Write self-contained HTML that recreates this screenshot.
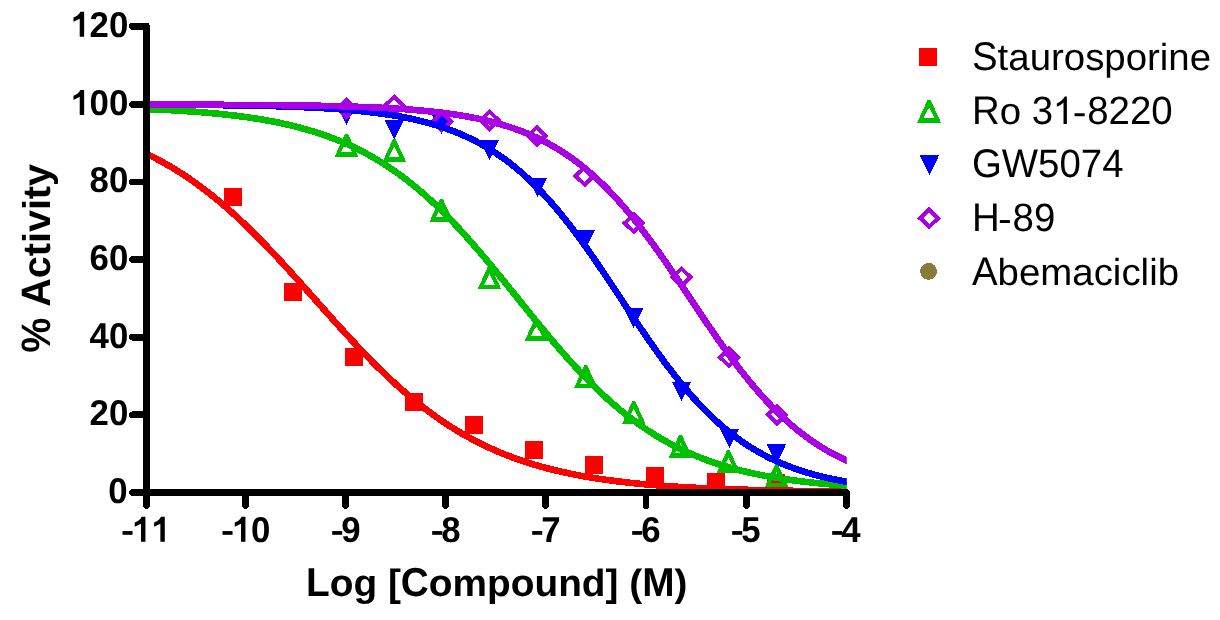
<!DOCTYPE html>
<html><head><meta charset="utf-8"><style>html,body{margin:0;padding:0;background:#fff;width:1220px;height:620px;overflow:hidden}svg{display:block;will-change:transform;text-rendering:geometricPrecision}</style></head>
<body>
<svg width="1220" height="620" viewBox="0 0 1220 620">
<rect width="1220" height="620" fill="#fff"/>
<defs><clipPath id="pc"><rect x="146.5" y="0" width="700.3" height="620"/></clipPath></defs>
<g clip-path="url(#pc)" shape-rendering="crispEdges">
<path fill="#FF0000" d="M224.00,187.90h18v18h-18zM284.00,282.90h18v18h-18zM344.50,347.50h18v18h-18zM404.80,392.90h18v18h-18zM465.00,416.40h18v18h-18zM525.00,440.50h18v18h-18zM585.00,456.00h18v18h-18zM646.40,466.90h18v18h-18zM706.60,473.00h18v18h-18zM766.70,474.00h18v18h-18z"/>
<path fill="#00C000" fill-rule="evenodd" d="M345.10,133.70L347.90,133.70L358.40,156.70L334.60,156.70zM346.50,141.40L351.90,151.90L341.10,151.90zM392.90,139.15L395.70,139.15L406.20,162.15L382.40,162.15zM394.30,146.85L399.70,157.35L388.90,157.35zM440.00,198.80L442.80,198.80L453.30,221.80L429.50,221.80zM441.40,206.50L446.80,217.00L436.00,217.00zM488.00,266.40L490.80,266.40L501.30,289.40L477.50,289.40zM489.40,274.10L494.80,284.60L484.00,284.60zM535.10,317.90L537.90,317.90L548.40,340.90L524.60,340.90zM536.50,325.60L541.90,336.10L531.10,336.10zM584.40,365.30L587.20,365.30L597.70,388.30L573.90,388.30zM585.80,373.00L591.20,383.50L580.40,383.50zM632.40,401.10L635.20,401.10L645.70,424.10L621.90,424.10zM633.80,408.80L639.20,419.30L628.40,419.30zM679.10,434.90L681.90,434.90L692.40,457.90L668.60,457.90zM680.50,442.60L685.90,453.10L675.10,453.10zM727.00,450.30L729.80,450.30L740.30,473.30L716.50,473.30zM728.40,458.00L733.80,468.50L723.00,468.50zM775.20,464.30L778.00,464.30L788.50,487.30L764.70,487.30zM776.60,472.00L782.00,482.50L771.20,482.50z"/>
<path fill="#0000FF" d="M336.80,105.00L356.20,105.00L346.50,124.60zM384.60,120.10L404.00,120.10L394.30,139.70zM431.80,114.90L451.20,114.90L441.50,134.50zM479.80,140.00L499.20,140.00L489.50,159.60zM527.80,177.90L547.20,177.90L537.50,197.50zM575.40,230.10L594.80,230.10L585.10,249.70zM623.80,308.40L643.20,308.40L633.50,328.00zM671.80,381.60L691.20,381.60L681.50,401.20zM719.80,428.50L739.20,428.50L729.50,448.10zM766.80,444.10L786.20,444.10L776.50,463.70z"/>
<path fill="#AA00E6" fill-rule="evenodd" d="M346.50,97.20L358.50,108.60L346.50,120.00L334.50,108.60zM346.50,102.70L352.40,108.60L346.50,114.50L340.60,108.60zM394.30,94.10L406.30,105.50L394.30,116.90L382.30,105.50zM394.30,99.60L400.20,105.50L394.30,111.40L388.40,105.50zM441.80,110.10L453.80,121.50L441.80,132.90L429.80,121.50zM441.80,115.60L447.70,121.50L441.80,127.40L435.90,121.50zM489.50,108.90L501.50,120.30L489.50,131.70L477.50,120.30zM489.50,114.40L495.40,120.30L489.50,126.20L483.60,120.30zM536.90,124.50L548.90,135.90L536.90,147.30L524.90,135.90zM536.90,130.00L542.80,135.90L536.90,141.80L531.00,135.90zM584.70,164.60L596.70,176.00L584.70,187.40L572.70,176.00zM584.70,170.10L590.60,176.00L584.70,181.90L578.80,176.00zM633.80,211.70L645.80,223.10L633.80,234.50L621.80,223.10zM633.80,217.20L639.70,223.10L633.80,229.00L627.90,223.10zM681.50,265.90L693.50,277.30L681.50,288.70L669.50,277.30zM681.50,271.40L687.40,277.30L681.50,283.20L675.60,277.30zM729.00,345.80L741.00,357.20L729.00,368.60L717.00,357.20zM729.00,351.30L734.90,357.20L729.00,363.10L723.10,357.20zM776.80,403.40L788.80,414.80L776.80,426.20L764.80,414.80zM776.80,408.90L782.70,414.80L776.80,420.70L770.90,414.80z"/>
<path fill="none" stroke="#FF0000" stroke-width="6.6" stroke-linejoin="round" d="M143.50,152.31 L146.02,153.51 L148.54,154.74 L151.06,155.99 L153.59,157.28 L156.11,158.59 L158.63,159.93 L161.15,161.30 L163.67,162.70 L166.19,164.13 L168.71,165.59 L171.24,167.08 L173.76,168.60 L176.28,170.15 L178.80,171.73 L181.32,173.34 L183.84,174.98 L186.36,176.66 L188.89,178.37 L191.41,180.11 L193.93,181.88 L196.45,183.68 L198.97,185.51 L201.49,187.38 L204.01,189.28 L206.54,191.21 L209.06,193.18 L211.58,195.17 L214.10,197.20 L216.62,199.26 L219.14,201.35 L221.66,203.48 L224.19,205.63 L226.71,207.82 L229.23,210.03 L231.75,212.28 L234.27,214.56 L236.79,216.87 L239.31,219.20 L241.84,221.57 L244.36,223.96 L246.88,226.38 L249.40,228.83 L251.92,231.31 L254.44,233.81 L256.96,236.33 L259.49,238.88 L262.01,241.46 L264.53,244.06 L267.05,246.68 L269.57,249.32 L272.09,251.98 L274.61,254.66 L277.14,257.36 L279.66,260.07 L282.18,262.80 L284.70,265.55 L287.22,268.31 L289.74,271.09 L292.26,273.88 L294.79,276.67 L297.31,279.48 L299.83,282.30 L302.35,285.12 L304.87,287.95 L307.39,290.79 L309.91,293.63 L312.44,296.47 L314.96,299.31 L317.48,302.15 L320.00,304.99 L322.52,307.83 L325.04,310.67 L327.56,313.50 L330.09,316.32 L332.61,319.14 L335.13,321.95 L337.65,324.75 L340.17,327.53 L342.69,330.31 L345.21,333.07 L347.74,335.82 L350.26,338.55 L352.78,341.27 L355.30,343.97 L357.82,346.65 L360.34,349.31 L362.86,351.96 L365.39,354.58 L367.91,357.18 L370.43,359.75 L372.95,362.30 L375.47,364.83 L377.99,367.34 L380.51,369.81 L383.04,372.26 L385.56,374.69 L388.08,377.08 L390.60,379.45 L393.12,381.79 L395.64,384.10 L398.16,386.37 L400.69,388.62 L403.21,390.84 L405.73,393.03 L408.25,395.19 L410.77,397.31 L413.29,399.41 L415.81,401.47 L418.34,403.50 L420.86,405.50 L423.38,407.46 L425.90,409.40 L428.42,411.30 L430.94,413.17 L433.46,415.01 L435.99,416.81 L438.51,418.58 L441.03,420.33 L443.55,422.03 L446.07,423.71 L448.59,425.36 L451.11,426.97 L453.64,428.55 L456.16,430.11 L458.68,431.63 L461.20,433.12 L463.72,434.58 L466.24,436.01 L468.76,437.41 L471.29,438.78 L473.81,440.13 L476.33,441.44 L478.85,442.73 L481.37,443.99 L483.89,445.22 L486.41,446.42 L488.94,447.60 L491.46,448.75 L493.98,449.87 L496.50,450.97 L499.02,452.05 L501.54,453.10 L504.06,454.12 L506.59,455.12 L509.11,456.10 L511.63,457.05 L514.15,457.99 L516.67,458.89 L519.19,459.78 L521.71,460.65 L524.24,461.49 L526.76,462.32 L529.28,463.12 L531.80,463.90 L534.32,464.67 L536.84,465.41 L539.36,466.14 L541.89,466.85 L544.41,467.54 L546.93,468.21 L549.45,468.87 L551.97,469.51 L554.49,470.13 L557.01,470.74 L559.54,471.33 L562.06,471.90 L564.58,472.46 L567.10,473.01 L569.62,473.54 L572.14,474.06 L574.66,474.56 L577.19,475.05 L579.71,475.53 L582.23,476.00 L584.75,476.45 L587.27,476.89 L589.79,477.32 L592.31,477.74 L594.84,478.14 L597.36,478.54 L599.88,478.92 L602.40,479.29 L604.92,479.66 L607.44,480.01 L609.96,480.36 L612.49,480.69 L615.01,481.02 L617.53,481.33 L620.05,481.64 L622.57,481.94 L625.09,482.23 L627.61,482.52 L630.14,482.79 L632.66,483.06 L635.18,483.32 L637.70,483.57 L640.22,483.82 L642.74,484.06 L645.26,484.29 L647.79,484.52 L650.31,484.74 L652.83,484.95 L655.35,485.16 L657.87,485.36 L660.39,485.56 L662.91,485.75 L665.44,485.94 L667.96,486.12 L670.48,486.29 L673.00,486.46 L675.52,486.63 L678.04,486.79 L680.56,486.94 L683.09,487.10 L685.61,487.24 L688.13,487.39 L690.65,487.53 L693.17,487.66 L695.69,487.79 L698.21,487.92 L700.74,488.05 L703.26,488.17 L705.78,488.28 L708.30,488.40 L710.82,488.51 L713.34,488.62 L715.86,488.72 L718.39,488.82 L720.91,488.92 L723.43,489.02 L725.95,489.11 L728.47,489.20 L730.99,489.29 L733.51,489.37 L736.04,489.45 L738.56,489.53 L741.08,489.61 L743.60,489.69 L746.12,489.76 L748.64,489.83 L751.16,489.90 L753.69,489.97 L756.21,490.04 L758.73,490.10 L761.25,490.16 L763.77,490.22 L766.29,490.28 L768.81,490.34 L771.34,490.39 L773.86,490.45 L776.38,490.50 L778.90,490.55 L781.42,490.60 L783.94,490.64 L786.46,490.69 L788.99,490.74 L791.51,490.78 L794.03,490.82 L796.55,490.86 L799.07,490.90 L801.59,490.94 L804.11,490.98 L806.64,491.02 L809.16,491.05 L811.68,491.09 L814.20,491.12 L816.72,491.15 L819.24,491.18 L821.76,491.21 L824.29,491.24 L826.81,491.27 L829.33,491.30 L831.85,491.33 L834.37,491.35 L836.89,491.38 L839.41,491.41 L841.94,491.43 L844.46,491.45 L846.98,491.48 L849.50,491.50"/>
<path fill="none" stroke="#00C000" stroke-width="6.6" stroke-linejoin="round" d="M143.50,108.93 L146.02,109.03 L148.54,109.13 L151.06,109.24 L153.59,109.35 L156.11,109.46 L158.63,109.58 L161.15,109.70 L163.67,109.83 L166.19,109.96 L168.71,110.09 L171.24,110.23 L173.76,110.37 L176.28,110.51 L178.80,110.67 L181.32,110.82 L183.84,110.98 L186.36,111.15 L188.89,111.32 L191.41,111.50 L193.93,111.68 L196.45,111.87 L198.97,112.06 L201.49,112.27 L204.01,112.47 L206.54,112.69 L209.06,112.91 L211.58,113.14 L214.10,113.37 L216.62,113.61 L219.14,113.86 L221.66,114.12 L224.19,114.39 L226.71,114.66 L229.23,114.95 L231.75,115.24 L234.27,115.54 L236.79,115.85 L239.31,116.17 L241.84,116.50 L244.36,116.85 L246.88,117.20 L249.40,117.56 L251.92,117.94 L254.44,118.32 L256.96,118.72 L259.49,119.13 L262.01,119.55 L264.53,119.99 L267.05,120.44 L269.57,120.90 L272.09,121.37 L274.61,121.87 L277.14,122.37 L279.66,122.89 L282.18,123.43 L284.70,123.98 L287.22,124.55 L289.74,125.14 L292.26,125.74 L294.79,126.37 L297.31,127.01 L299.83,127.67 L302.35,128.34 L304.87,129.04 L307.39,129.76 L309.91,130.50 L312.44,131.26 L314.96,132.04 L317.48,132.85 L320.00,133.68 L322.52,134.53 L325.04,135.40 L327.56,136.30 L330.09,137.23 L332.61,138.18 L335.13,139.15 L337.65,140.15 L340.17,141.18 L342.69,142.24 L345.21,143.33 L347.74,144.44 L350.26,145.59 L352.78,146.76 L355.30,147.96 L357.82,149.20 L360.34,150.47 L362.86,151.77 L365.39,153.10 L367.91,154.46 L370.43,155.86 L372.95,157.29 L375.47,158.76 L377.99,160.26 L380.51,161.80 L383.04,163.37 L385.56,164.98 L388.08,166.63 L390.60,168.31 L393.12,170.04 L395.64,171.80 L398.16,173.59 L400.69,175.43 L403.21,177.30 L405.73,179.21 L408.25,181.17 L410.77,183.16 L413.29,185.19 L415.81,187.26 L418.34,189.36 L420.86,191.51 L423.38,193.70 L425.90,195.93 L428.42,198.19 L430.94,200.49 L433.46,202.84 L435.99,205.22 L438.51,207.63 L441.03,210.09 L443.55,212.58 L446.07,215.11 L448.59,217.67 L451.11,220.27 L453.64,222.91 L456.16,225.58 L458.68,228.28 L461.20,231.01 L463.72,233.78 L466.24,236.57 L468.76,239.40 L471.29,242.25 L473.81,245.13 L476.33,248.04 L478.85,250.97 L481.37,253.92 L483.89,256.90 L486.41,259.90 L488.94,262.92 L491.46,265.95 L493.98,269.00 L496.50,272.07 L499.02,275.15 L501.54,278.25 L504.06,281.35 L506.59,284.46 L509.11,287.59 L511.63,290.71 L514.15,293.84 L516.67,296.98 L519.19,300.11 L521.71,303.24 L524.24,306.37 L526.76,309.50 L529.28,312.62 L531.80,315.73 L534.32,318.83 L536.84,321.93 L539.36,325.01 L541.89,328.08 L544.41,331.13 L546.93,334.16 L549.45,337.18 L551.97,340.18 L554.49,343.15 L557.01,346.11 L559.54,349.04 L562.06,351.94 L564.58,354.82 L567.10,357.67 L569.62,360.49 L572.14,363.29 L574.66,366.05 L577.19,368.78 L579.71,371.48 L582.23,374.15 L584.75,376.78 L587.27,379.38 L589.79,381.94 L592.31,384.47 L594.84,386.96 L597.36,389.41 L599.88,391.83 L602.40,394.20 L604.92,396.54 L607.44,398.85 L609.96,401.11 L612.49,403.33 L615.01,405.52 L617.53,407.66 L620.05,409.77 L622.57,411.83 L625.09,413.86 L627.61,415.85 L630.14,417.80 L632.66,419.71 L635.18,421.58 L637.70,423.42 L640.22,425.21 L642.74,426.97 L645.26,428.69 L647.79,430.37 L650.31,432.01 L652.83,433.62 L655.35,435.19 L657.87,436.73 L660.39,438.23 L662.91,439.69 L665.44,441.13 L667.96,442.52 L670.48,443.88 L673.00,445.21 L675.52,446.51 L678.04,447.78 L680.56,449.01 L683.09,450.21 L685.61,451.39 L688.13,452.53 L690.65,453.64 L693.17,454.73 L695.69,455.78 L698.21,456.81 L700.74,457.81 L703.26,458.78 L705.78,459.73 L708.30,460.66 L710.82,461.55 L713.34,462.43 L715.86,463.28 L718.39,464.10 L720.91,464.91 L723.43,465.69 L725.95,466.45 L728.47,467.19 L730.99,467.90 L733.51,468.60 L736.04,469.28 L738.56,469.94 L741.08,470.58 L743.60,471.20 L746.12,471.80 L748.64,472.38 L751.16,472.95 L753.69,473.51 L756.21,474.04 L758.73,474.56 L761.25,475.07 L763.77,475.56 L766.29,476.03 L768.81,476.50 L771.34,476.94 L773.86,477.38 L776.38,477.80 L778.90,478.21 L781.42,478.61 L783.94,478.99 L786.46,479.36 L788.99,479.73 L791.51,480.08 L794.03,480.42 L796.55,480.75 L799.07,481.07 L801.59,481.38 L804.11,481.68 L806.64,481.97 L809.16,482.26 L811.68,482.53 L814.20,482.80 L816.72,483.05 L819.24,483.30 L821.76,483.55 L824.29,483.78 L826.81,484.01 L829.33,484.23 L831.85,484.44 L834.37,484.65 L836.89,484.85 L839.41,485.05 L841.94,485.23 L844.46,485.42 L846.98,485.59 L849.50,485.76"/>
<path fill="none" stroke="#0000FF" stroke-width="6.6" stroke-linejoin="round" d="M143.50,104.63 L146.02,104.64 L148.54,104.65 L151.06,104.66 L153.59,104.67 L156.11,104.68 L158.63,104.70 L161.15,104.71 L163.67,104.72 L166.19,104.73 L168.71,104.75 L171.24,104.76 L173.76,104.77 L176.28,104.79 L178.80,104.80 L181.32,104.82 L183.84,104.84 L186.36,104.85 L188.89,104.87 L191.41,104.89 L193.93,104.91 L196.45,104.93 L198.97,104.95 L201.49,104.97 L204.01,105.00 L206.54,105.02 L209.06,105.05 L211.58,105.07 L214.10,105.10 L216.62,105.13 L219.14,105.16 L221.66,105.19 L224.19,105.22 L226.71,105.25 L229.23,105.28 L231.75,105.32 L234.27,105.36 L236.79,105.39 L239.31,105.43 L241.84,105.47 L244.36,105.52 L246.88,105.56 L249.40,105.61 L251.92,105.66 L254.44,105.71 L256.96,105.76 L259.49,105.81 L262.01,105.87 L264.53,105.93 L267.05,105.99 L269.57,106.05 L272.09,106.12 L274.61,106.18 L277.14,106.25 L279.66,106.33 L282.18,106.40 L284.70,106.48 L287.22,106.57 L289.74,106.65 L292.26,106.74 L294.79,106.84 L297.31,106.93 L299.83,107.03 L302.35,107.14 L304.87,107.25 L307.39,107.36 L309.91,107.48 L312.44,107.60 L314.96,107.72 L317.48,107.86 L320.00,107.99 L322.52,108.13 L325.04,108.28 L327.56,108.44 L330.09,108.60 L332.61,108.76 L335.13,108.93 L337.65,109.11 L340.17,109.30 L342.69,109.49 L345.21,109.69 L347.74,109.90 L350.26,110.12 L352.78,110.34 L355.30,110.57 L357.82,110.82 L360.34,111.07 L362.86,111.33 L365.39,111.60 L367.91,111.88 L370.43,112.18 L372.95,112.48 L375.47,112.80 L377.99,113.12 L380.51,113.46 L383.04,113.82 L385.56,114.18 L388.08,114.57 L390.60,114.96 L393.12,115.37 L395.64,115.80 L398.16,116.24 L400.69,116.69 L403.21,117.17 L405.73,117.66 L408.25,118.17 L410.77,118.70 L413.29,119.25 L415.81,119.82 L418.34,120.41 L420.86,121.02 L423.38,121.66 L425.90,122.32 L428.42,123.00 L430.94,123.70 L433.46,124.43 L435.99,125.19 L438.51,125.98 L441.03,126.79 L443.55,127.63 L446.07,128.50 L448.59,129.40 L451.11,130.33 L453.64,131.30 L456.16,132.29 L458.68,133.32 L461.20,134.39 L463.72,135.49 L466.24,136.63 L468.76,137.81 L471.29,139.02 L473.81,140.28 L476.33,141.57 L478.85,142.91 L481.37,144.29 L483.89,145.71 L486.41,147.18 L488.94,148.70 L491.46,150.26 L493.98,151.86 L496.50,153.52 L499.02,155.23 L501.54,156.98 L504.06,158.79 L506.59,160.64 L509.11,162.55 L511.63,164.52 L514.15,166.53 L516.67,168.61 L519.19,170.73 L521.71,172.91 L524.24,175.15 L526.76,177.45 L529.28,179.80 L531.80,182.21 L534.32,184.67 L536.84,187.20 L539.36,189.78 L541.89,192.41 L544.41,195.11 L546.93,197.86 L549.45,200.67 L551.97,203.53 L554.49,206.45 L557.01,209.43 L559.54,212.45 L562.06,215.53 L564.58,218.67 L567.10,221.85 L569.62,225.09 L572.14,228.37 L574.66,231.70 L577.19,235.07 L579.71,238.49 L582.23,241.95 L584.75,245.45 L587.27,248.99 L589.79,252.56 L592.31,256.17 L594.84,259.81 L597.36,263.47 L599.88,267.16 L602.40,270.88 L604.92,274.62 L607.44,278.37 L609.96,282.14 L612.49,285.92 L615.01,289.72 L617.53,293.52 L620.05,297.32 L622.57,301.13 L625.09,304.93 L627.61,308.73 L630.14,312.52 L632.66,316.30 L635.18,320.06 L637.70,323.81 L640.22,327.55 L642.74,331.26 L645.26,334.94 L647.79,338.60 L650.31,342.23 L652.83,345.83 L655.35,349.39 L657.87,352.92 L660.39,356.41 L662.91,359.86 L665.44,363.27 L667.96,366.63 L670.48,369.95 L673.00,373.22 L675.52,376.44 L678.04,379.61 L680.56,382.73 L683.09,385.79 L685.61,388.81 L688.13,391.77 L690.65,394.67 L693.17,397.52 L695.69,400.32 L698.21,403.05 L700.74,405.73 L703.26,408.36 L705.78,410.92 L708.30,413.43 L710.82,415.88 L713.34,418.27 L715.86,420.61 L718.39,422.89 L720.91,425.11 L723.43,427.28 L725.95,429.39 L728.47,431.45 L730.99,433.45 L733.51,435.40 L736.04,437.30 L738.56,439.14 L741.08,440.93 L743.60,442.68 L746.12,444.37 L748.64,446.01 L751.16,447.61 L753.69,449.15 L756.21,450.66 L758.73,452.11 L761.25,453.52 L763.77,454.89 L766.29,456.22 L768.81,457.51 L771.34,458.75 L773.86,459.95 L776.38,461.12 L778.90,462.25 L781.42,463.34 L783.94,464.40 L786.46,465.42 L788.99,466.41 L791.51,467.36 L794.03,468.29 L796.55,469.18 L799.07,470.04 L801.59,470.88 L804.11,471.68 L806.64,472.46 L809.16,473.21 L811.68,473.93 L814.20,474.63 L816.72,475.31 L819.24,475.96 L821.76,476.59 L824.29,477.19 L826.81,477.78 L829.33,478.34 L831.85,478.89 L834.37,479.41 L836.89,479.92 L839.41,480.41 L841.94,480.88 L844.46,481.33 L846.98,481.77 L849.50,482.19"/>
<path fill="none" stroke="#AA00E6" stroke-width="6.6" stroke-linejoin="round" d="M143.50,104.59 L146.02,104.59 L148.54,104.60 L151.06,104.60 L153.59,104.60 L156.11,104.61 L158.63,104.61 L161.15,104.62 L163.67,104.62 L166.19,104.62 L168.71,104.63 L171.24,104.63 L173.76,104.64 L176.28,104.64 L178.80,104.65 L181.32,104.66 L183.84,104.66 L186.36,104.67 L188.89,104.67 L191.41,104.68 L193.93,104.69 L196.45,104.70 L198.97,104.70 L201.49,104.71 L204.01,104.72 L206.54,104.73 L209.06,104.74 L211.58,104.75 L214.10,104.76 L216.62,104.77 L219.14,104.78 L221.66,104.79 L224.19,104.80 L226.71,104.81 L229.23,104.82 L231.75,104.83 L234.27,104.85 L236.79,104.86 L239.31,104.87 L241.84,104.89 L244.36,104.90 L246.88,104.92 L249.40,104.94 L251.92,104.95 L254.44,104.97 L256.96,104.99 L259.49,105.01 L262.01,105.03 L264.53,105.05 L267.05,105.07 L269.57,105.09 L272.09,105.12 L274.61,105.14 L277.14,105.17 L279.66,105.19 L282.18,105.22 L284.70,105.25 L287.22,105.28 L289.74,105.31 L292.26,105.34 L294.79,105.37 L297.31,105.41 L299.83,105.44 L302.35,105.48 L304.87,105.52 L307.39,105.56 L309.91,105.60 L312.44,105.64 L314.96,105.69 L317.48,105.74 L320.00,105.79 L322.52,105.84 L325.04,105.89 L327.56,105.94 L330.09,106.00 L332.61,106.06 L335.13,106.12 L337.65,106.18 L340.17,106.25 L342.69,106.32 L345.21,106.39 L347.74,106.47 L350.26,106.54 L352.78,106.62 L355.30,106.71 L357.82,106.79 L360.34,106.88 L362.86,106.98 L365.39,107.07 L367.91,107.18 L370.43,107.28 L372.95,107.39 L375.47,107.50 L377.99,107.62 L380.51,107.74 L383.04,107.87 L385.56,108.00 L388.08,108.14 L390.60,108.28 L393.12,108.43 L395.64,108.59 L398.16,108.75 L400.69,108.91 L403.21,109.09 L405.73,109.27 L408.25,109.45 L410.77,109.65 L413.29,109.85 L415.81,110.06 L418.34,110.27 L420.86,110.50 L423.38,110.73 L425.90,110.97 L428.42,111.23 L430.94,111.49 L433.46,111.76 L435.99,112.04 L438.51,112.33 L441.03,112.64 L443.55,112.95 L446.07,113.28 L448.59,113.62 L451.11,113.97 L453.64,114.34 L456.16,114.72 L458.68,115.11 L461.20,115.52 L463.72,115.94 L466.24,116.38 L468.76,116.84 L471.29,117.31 L473.81,117.80 L476.33,118.31 L478.85,118.84 L481.37,119.39 L483.89,119.95 L486.41,120.54 L488.94,121.15 L491.46,121.78 L493.98,122.43 L496.50,123.11 L499.02,123.81 L501.54,124.53 L504.06,125.29 L506.59,126.06 L509.11,126.87 L511.63,127.70 L514.15,128.57 L516.67,129.46 L519.19,130.38 L521.71,131.34 L524.24,132.33 L526.76,133.35 L529.28,134.40 L531.80,135.49 L534.32,136.62 L536.84,137.78 L539.36,138.99 L541.89,140.23 L544.41,141.51 L546.93,142.83 L549.45,144.19 L551.97,145.60 L554.49,147.05 L557.01,148.55 L559.54,150.09 L562.06,151.68 L564.58,153.31 L567.10,154.99 L569.62,156.73 L572.14,158.51 L574.66,160.34 L577.19,162.22 L579.71,164.16 L582.23,166.15 L584.75,168.19 L587.27,170.29 L589.79,172.44 L592.31,174.65 L594.84,176.91 L597.36,179.23 L599.88,181.60 L602.40,184.03 L604.92,186.52 L607.44,189.06 L609.96,191.66 L612.49,194.32 L615.01,197.03 L617.53,199.80 L620.05,202.62 L622.57,205.50 L625.09,208.43 L627.61,211.41 L630.14,214.45 L632.66,217.54 L635.18,220.68 L637.70,223.87 L640.22,227.10 L642.74,230.39 L645.26,233.72 L647.79,237.09 L650.31,240.50 L652.83,243.96 L655.35,247.45 L657.87,250.98 L660.39,254.54 L662.91,258.13 L665.44,261.75 L667.96,265.40 L670.48,269.08 L673.00,272.77 L675.52,276.49 L678.04,280.22 L680.56,283.96 L683.09,287.71 L685.61,291.48 L688.13,295.25 L690.65,299.02 L693.17,302.79 L695.69,306.56 L698.21,310.32 L700.74,314.07 L703.26,317.81 L705.78,321.54 L708.30,325.25 L710.82,328.93 L713.34,332.60 L715.86,336.24 L718.39,339.86 L720.91,343.44 L723.43,346.99 L725.95,350.51 L728.47,353.99 L730.99,357.44 L733.51,360.84 L736.04,364.20 L738.56,367.52 L741.08,370.79 L743.60,374.01 L746.12,377.19 L748.64,380.31 L751.16,383.39 L753.69,386.41 L756.21,389.38 L758.73,392.30 L761.25,395.16 L763.77,397.97 L766.29,400.72 L768.81,403.41 L771.34,406.05 L773.86,408.64 L776.38,411.17 L778.90,413.64 L781.42,416.05 L783.94,418.41 L786.46,420.71 L788.99,422.96 L791.51,425.15 L794.03,427.29 L796.55,429.37 L799.07,431.40 L801.59,433.37 L804.11,435.29 L806.64,437.16 L809.16,438.98 L811.68,440.75 L814.20,442.47 L816.72,444.14 L819.24,445.76 L821.76,447.33 L824.29,448.86 L826.81,450.34 L829.33,451.78 L831.85,453.18 L834.37,454.53 L836.89,455.84 L839.41,457.11 L841.94,458.34 L844.46,459.53 L846.98,460.69 L849.50,461.80"/>
</g>
<g shape-rendering="crispEdges">
<path fill="none" stroke="#000" stroke-width="6.7" stroke-linejoin="round" stroke-linecap="round" d="M132.4,26.3 H146.55 V505.6"/>
<path stroke="#000" stroke-width="6.7" stroke-linecap="round" d="M132.4,104.5 H146.55"/>
<path stroke="#000" stroke-width="6.7" stroke-linecap="round" d="M132.4,181.9 H146.55"/>
<path stroke="#000" stroke-width="6.7" stroke-linecap="round" d="M132.4,259.5 H146.55"/>
<path stroke="#000" stroke-width="6.7" stroke-linecap="round" d="M132.4,337.2 H146.55"/>
<path stroke="#000" stroke-width="6.7" stroke-linecap="round" d="M132.4,414.8 H146.55"/>
<path stroke="#000" stroke-width="6.7" stroke-linecap="round" d="M132.4,492.4 H146.55"/>
<path fill="none" stroke="#000" stroke-width="6.7" stroke-linejoin="round" stroke-linecap="round" d="M132.4,492.4 H846.5 V505.6"/>
<path stroke="#000" stroke-width="6.7" stroke-linecap="round" d="M245.6,492.4 V505.6"/>
<path stroke="#000" stroke-width="6.7" stroke-linecap="round" d="M345.6,492.4 V505.6"/>
<path stroke="#000" stroke-width="6.7" stroke-linecap="round" d="M445.6,492.4 V505.6"/>
<path stroke="#000" stroke-width="6.7" stroke-linecap="round" d="M545.6,492.4 V505.6"/>
<path stroke="#000" stroke-width="6.7" stroke-linecap="round" d="M646.0,492.4 V505.6"/>
<path stroke="#000" stroke-width="6.7" stroke-linecap="round" d="M746.5,492.4 V505.6"/>
</g>
<g fill="#000">
<path transform="translate(70.24,36.70) scale(0.01699,-0.01699)" d="M818,0L558,0L558,1063L190,883L190,1124Q325,1170 435,1260Q550,1360 595,1466L818,1466Z"/>
<text transform="translate(0,36.70) scale(1,1.03)" x="89.59 108.95" y="0" font-family="Liberation Sans, sans-serif" font-weight="bold" font-size="34.8" style="font-kerning:none">20</text>
<path transform="translate(70.24,114.90) scale(0.01699,-0.01699)" d="M818,0L558,0L558,1063L190,883L190,1124Q325,1170 435,1260Q550,1360 595,1466L818,1466Z"/>
<text transform="translate(0,114.90) scale(1,1.03)" x="89.59 108.95" y="0" font-family="Liberation Sans, sans-serif" font-weight="bold" font-size="34.8" style="font-kerning:none">00</text>
<text transform="translate(0,192.30) scale(1,1.03)" x="89.59 108.95" y="0" font-family="Liberation Sans, sans-serif" font-weight="bold" font-size="34.8" style="font-kerning:none">80</text>
<text transform="translate(0,269.90) scale(1,1.03)" x="89.59 108.95" y="0" font-family="Liberation Sans, sans-serif" font-weight="bold" font-size="34.8" style="font-kerning:none">60</text>
<text transform="translate(0,347.60) scale(1,1.03)" x="89.59 108.95" y="0" font-family="Liberation Sans, sans-serif" font-weight="bold" font-size="34.8" style="font-kerning:none">40</text>
<text transform="translate(0,425.20) scale(1,1.03)" x="89.59 108.95" y="0" font-family="Liberation Sans, sans-serif" font-weight="bold" font-size="34.8" style="font-kerning:none">20</text>
<text transform="translate(0,502.80) scale(1,1.03)" x="108.15" y="0" font-family="Liberation Sans, sans-serif" font-weight="bold" font-size="34.8" style="font-kerning:none">0</text>
<rect x="122.50" y="531.08" width="10.03" height="3.72"/>
<path transform="translate(131.54,541.70) scale(0.01699,-0.01699)" d="M818,0L558,0L558,1063L190,883L190,1124Q325,1170 435,1260Q550,1360 595,1466L818,1466Z"/>
<path transform="translate(150.89,541.70) scale(0.01699,-0.01699)" d="M818,0L558,0L558,1063L190,883L190,1124Q325,1170 435,1260Q550,1360 595,1466L818,1466Z"/>
<rect x="222.50" y="531.08" width="10.03" height="3.72"/>
<path transform="translate(231.54,541.70) scale(0.01699,-0.01699)" d="M818,0L558,0L558,1063L190,883L190,1124Q325,1170 435,1260Q550,1360 595,1466L818,1466Z"/>
<text transform="translate(0,541.70) scale(1,1.03)" x="250.89" y="0" font-family="Liberation Sans, sans-serif" font-weight="bold" font-size="34.8" style="font-kerning:none">0</text>
<rect x="332.18" y="531.08" width="10.03" height="3.72"/>
<text transform="translate(0,541.70) scale(1,1.03)" x="341.22" y="0" font-family="Liberation Sans, sans-serif" font-weight="bold" font-size="34.8" style="font-kerning:none">9</text>
<rect x="432.18" y="531.08" width="10.03" height="3.72"/>
<text transform="translate(0,541.70) scale(1,1.03)" x="441.22" y="0" font-family="Liberation Sans, sans-serif" font-weight="bold" font-size="34.8" style="font-kerning:none">8</text>
<rect x="532.18" y="531.08" width="10.03" height="3.72"/>
<text transform="translate(0,541.70) scale(1,1.03)" x="541.22" y="0" font-family="Liberation Sans, sans-serif" font-weight="bold" font-size="34.8" style="font-kerning:none">7</text>
<rect x="632.18" y="531.08" width="10.03" height="3.72"/>
<text transform="translate(0,541.70) scale(1,1.03)" x="641.22" y="0" font-family="Liberation Sans, sans-serif" font-weight="bold" font-size="34.8" style="font-kerning:none">6</text>
<rect x="732.18" y="531.08" width="10.03" height="3.72"/>
<text transform="translate(0,541.70) scale(1,1.03)" x="741.22" y="0" font-family="Liberation Sans, sans-serif" font-weight="bold" font-size="34.8" style="font-kerning:none">5</text>
<rect x="832.18" y="531.08" width="10.03" height="3.72"/>
<text transform="translate(0,541.70) scale(1,1.03)" x="841.22" y="0" font-family="Liberation Sans, sans-serif" font-weight="bold" font-size="34.8" style="font-kerning:none">4</text>
<text transform="translate(0,595.90) scale(1,1.04)" x="306.01" y="0" font-family="Liberation Sans, sans-serif" font-weight="bold" font-size="38.8" style="font-kerning:none">L</text>
<text transform="translate(0,595.90) scale(1,0.98)" x="329.71 353.41 387.89" y="0" font-family="Liberation Sans, sans-serif" font-weight="bold" font-size="38.8" style="font-kerning:none">og[</text>
<text transform="translate(0,595.90) scale(1,1.04)" x="400.81" y="0" font-family="Liberation Sans, sans-serif" font-weight="bold" font-size="38.8" style="font-kerning:none">C</text>
<text transform="translate(0,595.90) scale(1,0.98)" x="428.83 452.53 487.03 510.73 534.43 558.13 581.83 605.53 629.23" y="0" font-family="Liberation Sans, sans-serif" font-weight="bold" font-size="38.8" style="font-kerning:none">ompound](</text>
<text transform="translate(0,595.90) scale(1,1.04)" x="642.15" y="0" font-family="Liberation Sans, sans-serif" font-weight="bold" font-size="38.8" style="font-kerning:none">M</text>
<text transform="translate(0,595.90) scale(1,0.98)" x="674.47" y="0" font-family="Liberation Sans, sans-serif" font-weight="bold" font-size="38.8" style="font-kerning:none">)</text>
<g transform="translate(49.6,258.4) rotate(-90)">
<text transform="translate(0,0.00) scale(1,1.04)" x="-94.39 -48.29" y="0" font-family="Liberation Sans, sans-serif" font-weight="bold" font-size="39.5" style="font-kerning:none">%A</text>
<text transform="translate(0,0.00) scale(1,0.98)" x="-19.77 2.20 15.35 26.33 48.29 59.27 72.42" y="0" font-family="Liberation Sans, sans-serif" font-weight="bold" font-size="39.5" style="font-kerning:none">ctivity</text>
</g>
</g>
<g shape-rendering="crispEdges">
<path fill="#FF0000" d="M919.00,48.00h18v18h-18z"/>
<path fill="#00C000" fill-rule="evenodd" d="M927.70,99.70L930.50,99.70L941.00,122.70L917.20,122.70zM929.10,107.40L934.50,117.90L923.70,117.90z"/>
<path fill="#0000FF" d="M919.80,155.10L939.20,155.10L929.50,174.70z"/>
<path fill="#AA00E6" fill-rule="evenodd" d="M929.10,206.80L941.10,218.20L929.10,229.60L917.10,218.20zM929.10,212.30L935.00,218.20L929.10,224.10L923.20,218.20z"/>
<circle cx="928.6" cy="271.4" r="8.45" fill="#8B7B3A"/>
</g>
<text transform="translate(0,69.70) scale(1,1.04)" x="972.00" y="0" font-family="Liberation Sans, sans-serif" font-size="38.4" style="font-kerning:none">S</text>
<text transform="translate(0,69.70) scale(1,0.98)" x="997.61 1008.28 1029.64 1050.99 1063.78 1085.14 1104.34 1125.69 1147.05 1159.84 1168.37 1189.73" y="0" font-family="Liberation Sans, sans-serif" font-size="38.4" style="font-kerning:none">taurosporine</text>
<path transform="translate(1053.11,124.10) scale(0.01875,-0.01875)" d="M735,0L555,0L555,1147Q490,1085 390,1023Q291,961 200,930L200,1104Q351,1175 464,1276Q577,1377 624,1466L735,1466Z"/>
<rect x="1074.56" y="113.26" width="10.12" height="2.96"/>
<text transform="translate(0,124.10) scale(1,1.04)" x="972.00" y="0" font-family="Liberation Sans, sans-serif" font-size="38.4" style="font-kerning:none">R</text>
<text transform="translate(0,124.10) scale(1,0.98)" x="999.73" y="0" font-family="Liberation Sans, sans-serif" font-size="38.4" style="font-kerning:none">o</text>
<text transform="translate(0,124.10) scale(1,1.03)" x="1031.76 1087.26 1108.61 1129.97 1151.33" y="0" font-family="Liberation Sans, sans-serif" font-size="38.4" style="font-kerning:none">38220</text>
<text transform="translate(0,177.20) scale(1,1.04)" x="972.00 1001.87" y="0" font-family="Liberation Sans, sans-serif" font-size="38.4" style="font-kerning:none">GW</text>
<text transform="translate(0,177.20) scale(1,1.03)" x="1038.11 1059.47 1080.83 1102.18" y="0" font-family="Liberation Sans, sans-serif" font-size="38.4" style="font-kerning:none">5074</text>
<rect x="999.83" y="220.06" width="10.12" height="2.96"/>
<text transform="translate(0,230.90) scale(1,1.04)" x="972.00" y="0" font-family="Liberation Sans, sans-serif" font-size="38.4" style="font-kerning:none">H</text>
<text transform="translate(0,230.90) scale(1,1.03)" x="1012.52 1033.88" y="0" font-family="Liberation Sans, sans-serif" font-size="38.4" style="font-kerning:none">89</text>
<text transform="translate(0,284.60) scale(1,1.04)" x="972.00" y="0" font-family="Liberation Sans, sans-serif" font-size="38.4" style="font-kerning:none">A</text>
<text transform="translate(0,284.60) scale(1,0.98)" x="997.61 1018.97 1040.33 1072.31 1093.67 1112.87 1121.40 1140.60 1149.13 1157.66" y="0" font-family="Liberation Sans, sans-serif" font-size="38.4" style="font-kerning:none">bemaciclib</text>
</svg>
</body></html>
